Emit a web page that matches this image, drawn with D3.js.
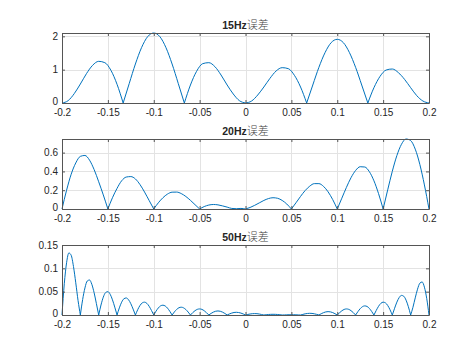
<!DOCTYPE html>
<html>
<head>
<meta charset="utf-8">
<script src="https://cdn.jsdelivr.net/npm/d3@7"></script>
<style>
  html, body { margin: 0; padding: 0; background: #fff; }
  svg { display: block; }
  text { font-family: "Liberation Sans", Arial, Helvetica, sans-serif; }
</style>
</head>
<body>
<script>
// ---------------- data ----------------
const titles = ["15Hz", "20Hz", "50Hz"];
const titleSuffix = "误差";

const xTicks = [-0.2, -0.15, -0.1, -0.05, 0, 0.05, 0.1, 0.15, 0.2];
const xTickLabels = ["-0.2", "-0.15", "-0.1", "-0.05", "0", "0.05", "0.1", "0.15", "0.2"];

const yTicks15 = [0, 1, 2];
const yTickLabels15 = ["0", "1", "2"];
const yTicks20 = [0, 0.2, 0.4, 0.6];
const yTickLabels20 = ["0", "0.2", "0.4", "0.6"];
const yTicks50 = [0, 0.05, 0.1, 0.15];
const yTickLabels50 = ["0", "0.05", "0.1", "0.15"];

const yLimits = [2.1, 0.745, 0.15];

// zero crossings (lobe edges) and values read at evenly spaced points inside each lobe
const zeros15 = [-0.2, -2 / 15, -1 / 15, 0, 1 / 15, 2 / 15, 0.2];
const lobes15 = [
  [0, 0.07, 0.28, 0.57, 0.88, 1.13, 1.25, 1.21, 0.98, 0.56, 0],
  [0, 0.59, 1.17, 1.66, 1.99, 2.10, 1.99, 1.66, 1.17, 0.59, 0],
  [0, 0.54, 0.95, 1.18, 1.21, 1.09, 0.84, 0.54, 0.27, 0.07, 0],
  [0, 0.06, 0.24, 0.48, 0.74, 0.96, 1.06, 1.03, 0.83, 0.48, 0],
  [0, 0.54, 1.07, 1.51, 1.81, 1.91, 1.81, 1.51, 1.07, 0.54, 0],
  [0, 0.46, 0.80, 0.99, 1.02, 0.91, 0.71, 0.46, 0.22, 0.06, 0]
];

const zeros20 = [-0.2, -0.15, -0.1, -0.05, 0, 0.05, 0.1, 0.15, 0.2];
const lobes20 = [
  [0, 0.20, 0.37, 0.49, 0.56, 0.57, 0.52, 0.42, 0.29, 0.15, 0],
  [0, 0.12, 0.22, 0.30, 0.34, 0.345, 0.32, 0.26, 0.18, 0.09, 0],
  [0, 0.066, 0.12, 0.159, 0.179, 0.18, 0.164, 0.133, 0.092, 0.046, 0],
  [0, 0.026, 0.042, 0.048, 0.044, 0.033, 0.020, 0.006, 0.003, 0.006, 0],
  [0, 0.016, 0.039, 0.065, 0.091, 0.111, 0.12, 0.114, 0.091, 0.053, 0],
  [0, 0.066, 0.134, 0.196, 0.243, 0.27, 0.27, 0.241, 0.183, 0.101, 0],
  [0, 0.115, 0.23, 0.333, 0.41, 0.45, 0.447, 0.397, 0.30, 0.164, 0],
  [0, 0.204, 0.401, 0.569, 0.689, 0.745, 0.728, 0.637, 0.475, 0.256, 0]
];

const zeros50 = [-0.2, -0.18, -0.16, -0.14, -0.12, -0.1, -0.08, -0.06, -0.04, -0.02, 0,
                 0.02, 0.04, 0.06, 0.08, 0.1, 0.12, 0.14, 0.16, 0.18, 0.2];
const lobes50 = [
  [0, 0.067, 0.112, 0.133, 0.128, 0.104, 0.069, 0.031, 0],
  [0, 0.033, 0.058, 0.0728, 0.075, 0.0658, 0.0477, 0.0244, 0],
  [0, 0.0214, 0.0382, 0.048, 0.05, 0.0444, 0.0325, 0.0169, 0],
  [0, 0.0153, 0.0274, 0.0348, 0.0365, 0.0327, 0.0242, 0.0127, 0],
  [0, 0.0113, 0.0204, 0.026, 0.0275, 0.0249, 0.0186, 0.0098, 0],
  [0, 0.0083, 0.0151, 0.0197, 0.021, 0.0193, 0.0147, 0.0079, 0],
  [0, 0.0066, 0.012, 0.0156, 0.0167, 0.0153, 0.0117, 0.0063, 0],
  [0, 0.0051, 0.0093, 0.0121, 0.013, 0.012, 0.0091, 0.0049, 0],
  [0, 0.0034, 0.0062, 0.0081, 0.0087, 0.008, 0.0061, 0.0033, 0],
  [0, 0.0023, 0.0041, 0.0054, 0.0058, 0.0053, 0.0041, 0.0022, 0],
  [0, 0.0012, 0.0021, 0.0028, 0.003, 0.0028, 0.0021, 0.0011, 0],
  [0, 0.0006, 0.0011, 0.0014, 0.0015, 0.0014, 0.0011, 0.0006, 0],
  [0, 0.0002, 0.0004, 0.0006, 0.0006, 0.0006, 0.0004, 0.0002, 0],
  [0, 0.0013, 0.0025, 0.0033, 0.0036, 0.0034, 0.0026, 0.0014, 0],
  [0, 0.0027, 0.005, 0.0066, 0.0072, 0.0067, 0.0052, 0.0028, 0],
  [0, 0.0048, 0.009, 0.0119, 0.013, 0.0121, 0.0093, 0.0051, 0],
  [0, 0.0072, 0.0135, 0.0179, 0.0195, 0.0183, 0.0141, 0.0077, 0],
  [0, 0.0098, 0.0186, 0.0249, 0.0275, 0.026, 0.0204, 0.0113, 0],
  [0, 0.0144, 0.0276, 0.0374, 0.042, 0.0402, 0.0318, 0.0178, 0],
  [0, 0.0165, 0.0367, 0.0553, 0.0681, 0.0708, 0.0596, 0.0356, 0]
];

// ---------------- drawing ----------------
const W = 474, H = 355;
const panels = [
  { zeros: zeros15, lobes: lobes15, yTicks: yTicks15, yLabels: yTickLabels15, top: 33 },
  { zeros: zeros20, lobes: lobes20, yTicks: yTicks20, yLabels: yTickLabels20, top: 139 },
  { zeros: zeros50, lobes: lobes50, yTicks: yTicks50, yLabels: yTickLabels50, top: 245 }
];
const left = 62, right = 429, ph = 70;
const lineColor = "#0072bd", axisColor = "#555555", gridColor = "#e3e3e3", textColor = "#262626";

const svg = d3.select("body").append("svg").attr("width", W).attr("height", H);

panels.forEach((p, i) => {
  const x = d3.scaleLinear().domain([-0.2, 0.2]).range([left, right]);
  const y = d3.scaleLinear().domain([0, yLimits[i]]).range([p.top + ph, p.top]);
  const g = svg.append("g");

  // grid
  g.append("g").selectAll("line").data(xTicks).join("line")
    .attr("x1", d => Math.round(x(d)) + 0.5).attr("x2", d => Math.round(x(d)) + 0.5)
    .attr("y1", p.top).attr("y2", p.top + ph)
    .attr("stroke", gridColor).attr("stroke-width", 1);
  g.append("g").selectAll("line").data(p.yTicks).join("line")
    .attr("x1", left).attr("x2", right)
    .attr("y1", d => Math.round(y(d)) + 0.5).attr("y2", d => Math.round(y(d)) + 0.5)
    .attr("stroke", gridColor).attr("stroke-width", 1);

  // curve: one monotone segment per lobe
  const line = d3.line().x(d => x(d[0])).y(d => y(d[1])).curve(d3.curveMonotoneX);
  let dStr = "";
  p.lobes.forEach((vals, j) => {
    const x0 = p.zeros[j], x1 = p.zeros[j + 1], n = vals.length - 1;
    const pts = vals.map((v, k) => [x0 + (x1 - x0) * k / n, v]);
    dStr += line(pts);
  });
  g.append("path").attr("d", dStr).attr("fill", "none")
    .attr("stroke", lineColor).attr("stroke-width", 1);

  // axes
  const styleAxis = (sel) => {
    sel.selectAll(".domain").attr("stroke", axisColor);
    sel.selectAll(".tick line").attr("stroke", axisColor);
    sel.selectAll(".tick text").attr("fill", textColor)
      .style("font-family", '"Liberation Sans", Arial, sans-serif').style("font-size", "10px");
    sel.attr("font-family", null).attr("font-size", null);
  };
  g.append("g").attr("transform", `translate(0,${p.top + ph})`)
    .call(d3.axisBottom(x).tickValues(xTicks).tickFormat((d, k) => xTickLabels[k])
      .tickSizeInner(-3).tickSizeOuter(0).tickPadding(6))
    .call(styleAxis);
  g.append("g").attr("transform", `translate(0,${p.top})`)
    .call(d3.axisTop(x).tickValues(xTicks).tickFormat("").tickSizeInner(-3).tickSizeOuter(0))
    .call(styleAxis);
  g.append("g").attr("transform", `translate(${left},0)`)
    .call(d3.axisLeft(y).tickValues(p.yTicks).tickFormat((d, k) => p.yLabels[k])
      .tickSizeInner(-3).tickSizeOuter(0).tickPadding(4))
    .call(styleAxis)
    .call(s => s.selectAll(".tick text").filter(d => d === 0).attr("dy", "0.12em"));
  g.append("g").attr("transform", `translate(${right},0)`)
    .call(d3.axisRight(y).tickValues(p.yTicks).tickFormat("").tickSizeInner(-3).tickSizeOuter(0))
    .call(styleAxis);

  // title
  const t = g.append("text").attr("x", (left + right) / 2).attr("y", p.top - 4)
    .attr("text-anchor", "middle").attr("fill", textColor).style("font-size", "11px");
  t.append("tspan").text(titles[i]).style("font-weight", "bold")
    .style("font-family", '"Liberation Sans", Arial, sans-serif').style("font-size", "10.5px");
  t.append("tspan").text(titleSuffix)
    .style("font-family", '"Noto Sans CJK SC", sans-serif').style("font-weight", "300").attr("fill", "#444");
});
</script>
</body>
</html>
